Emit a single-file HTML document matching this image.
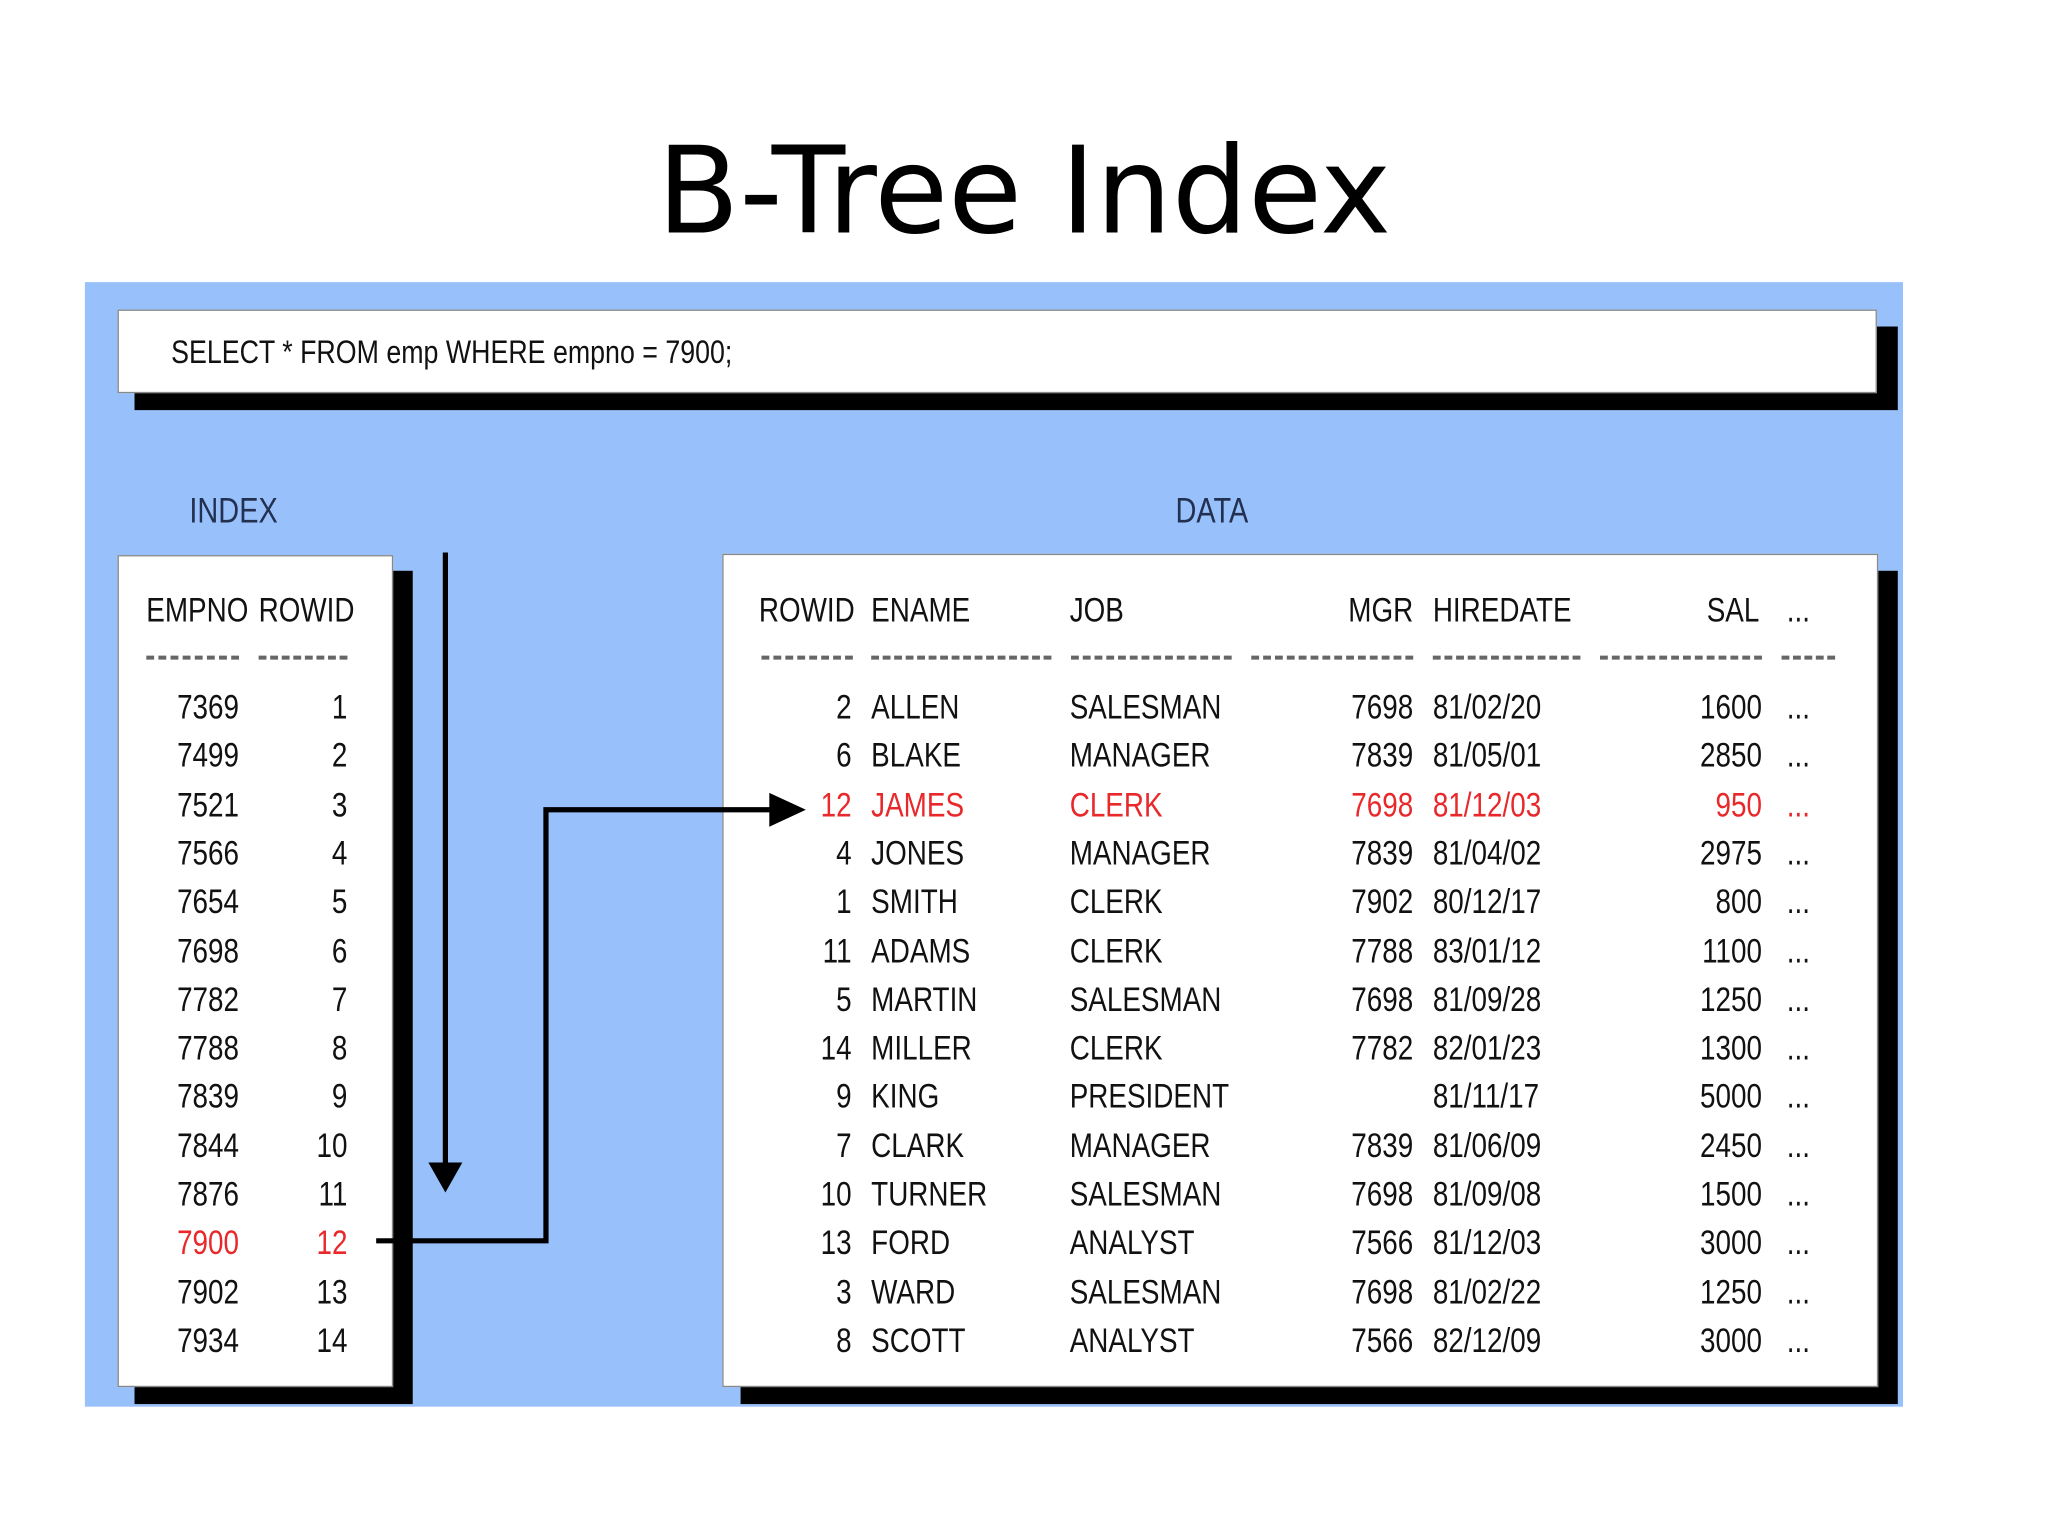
<!DOCTYPE html>
<html><head><meta charset="utf-8"><style>
html,body{margin:0;padding:0;background:#fff;}
body{width:2048px;height:1536px;overflow:hidden;position:relative;}
#stage{position:absolute;left:0;top:0;width:1568px;height:1176px;transform:scale(1.30612);transform-origin:0 0;}
.abs{position:absolute;}
.t{position:absolute;font-family:"Liberation Sans",sans-serif;font-size:26px;line-height:26px;color:#111;white-space:nowrap;}
.l{transform:translateY(-50%) scaleX(.82);transform-origin:0 50%;}
.r{transform:translateX(-100%) translateY(-50%) scaleX(.82);transform-origin:100% 50%;}
.red{color:#e8282a;}
.dash{position:absolute;height:0;border-top:3px dashed #666;}
</style></head><body>
<div id="stage">
<div class="abs" style="left:0;width:1568px;top:92px;text-align:center;font-family:'DejaVu Sans','Liberation Sans',sans-serif;font-size:92px;line-height:110px;color:#000;">B-Tree Index</div>
<div class="abs" style="left:65px;top:216px;width:1392px;height:861px;background:#98c1fc;"></div>
<div class="abs" style="left:103px;top:250px;width:1350px;height:64px;background:#000;"></div>
<div class="abs" style="left:90px;top:237px;width:1345px;height:62px;background:#fff;border:1px solid #888;"></div>
<div class="t l" style="left:131px;top:270px;font-size:25px;">SELECT * FROM emp WHERE empno = 7900;</div>
<div class="t l" style="left:145px;top:391px;color:#233050;font-size:27px;">INDEX</div>
<div class="t l" style="left:900px;top:391px;color:#233050;font-size:27px;">DATA</div>
<div class="abs" style="left:103px;top:437px;width:213px;height:638px;background:#000;"></div>
<div class="abs" style="left:90px;top:425px;width:209px;height:635px;background:#fff;border:1px solid #888;"></div>
<div class="abs" style="left:567px;top:437px;width:886px;height:638px;background:#000;"></div>
<div class="abs" style="left:553px;top:424px;width:883px;height:636px;background:#fff;border:1px solid #888;"></div>
<svg class="abs" style="left:0;top:0" width="1568" height="1176">
<line x1="341" y1="423" x2="341" y2="893" stroke="#000" stroke-width="4"/>
<polygon points="328,890 354,890 341,913" fill="#000"/>
<polyline points="288,950 418,950 418,620 592,620" fill="none" stroke="#000" stroke-width="4"/>
<polygon points="589,607 617,620 589,633" fill="#000"/>
</svg>
<div id="rows"></div>
</div>
<script>
const empnos=["7369","7499","7521","7566","7654","7698","7782","7788","7839","7844","7876","7900","7902","7934"];
const idxRowids=["1","2","3","4","5","6","7","8","9","10","11","12","13","14"];
const dRowids=["2","6","12","4","1","11","5","14","9","7","10","13","3","8"];
const enames=["ALLEN","BLAKE","JAMES","JONES","SMITH","ADAMS","MARTIN","MILLER","KING","CLARK","TURNER","FORD","WARD","SCOTT"];
const jobs=["SALESMAN","MANAGER","CLERK","MANAGER","CLERK","CLERK","SALESMAN","CLERK","PRESIDENT","MANAGER","SALESMAN","ANALYST","SALESMAN","ANALYST"];
const mgrs=["7698","7839","7698","7839","7902","7788","7698","7782","","7839","7698","7566","7698","7566"];
const hiredates=["81/02/20","81/05/01","81/12/03","81/04/02","80/12/17","83/01/12","81/09/28","82/01/23","81/11/17","81/06/09","81/09/08","81/12/03","81/02/22","82/12/09"];
const sals=["1600","2850","950","2975","800","1100","1250","1300","5000","2450","1500","3000","1250","3000"];
const root=document.getElementById('stage');
function txt(s,x,y,align,red,name){const d=document.createElement('div');d.className='t '+align+(red?' red':'');d.style.left=x+'px';d.style.top=y+'px';d.textContent=s;


root.appendChild(d);}
function dash(x1,x2,y){const d=document.createElement('div');d.className='dash';d.style.left=x1+'px';d.style.width=(x2-x1)+'px';d.style.top=y+'px';


root.appendChild(d);}
const rowY=i=>541+i*37.3;
txt('EMPNO',112,467,'l',false,'index-header-empno');txt('ROWID',198,467,'l',false,'index-header-rowid');
dash(112,183,502);dash(198,266,502);
txt('ROWID',581,467,'l',false,'data-header-rowid');txt('ENAME',667,467,'l',false,'data-header-ename');
txt('JOB',819,467,'l',false,'data-header-job');txt('MGR',1082,467,'r',false,'data-header-mgr');
txt('HIREDATE',1097,467,'l',false,'data-header-hiredate');txt('SAL',1347,467,'r',false,'data-header-sal');
txt('...',1368,467,'l',false,'data-header-more');
[[583,653],[667,805],[820,943],[958,1082],[1097,1210],[1225,1349],[1364,1405]].forEach(p=>dash(p[0],p[1],502));
for(let i=0;i<empnos.length;i++){const y=rowY(i);const ri=empnos[i]==='7900';
txt(empnos[i],183,y,'r',ri,'index-empno');txt(idxRowids[i],266,y,'r',ri,'index-rowid');
const rd=dRowids[i]==='12';
txt(dRowids[i],652,y,'r',rd,'data-rowid');txt(enames[i],667,y,'l',rd,'data-ename');
txt(jobs[i],819,y,'l',rd,'data-job');if(mgrs[i])txt(mgrs[i],1082,y,'r',rd,'data-mgr');
txt(hiredates[i],1097,y,'l',rd,'data-hiredate');txt(sals[i],1349,y,'r',rd,'data-sal');
txt('...',1368,y,'l',rd,'data-more');}
</script>
</body></html>
